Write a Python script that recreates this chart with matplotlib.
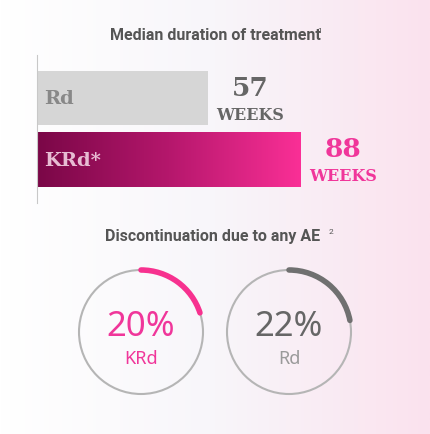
import numpy as np
import matplotlib.pyplot as plt
from matplotlib.patches import Arc, Circle
from matplotlib.colors import LinearSegmentedColormap

# data
arms = ['Rd', 'KRd*']
weeks = [57, 88]
ae_labels = ['KRd', 'Rd']
ae_pct = [20, 22]

W, H = 430, 434
fig = plt.figure(figsize=(W / 100, H / 100), dpi=100)

# background gradient
bg = fig.add_axes([0, 0, 1, 1])
grad = np.linspace(0, 1, 256).reshape(1, -1)
bg.imshow(grad, aspect='auto', extent=[0, W, H, 0], zorder=0,
          cmap=LinearSegmentedColormap.from_list('bg', ['#ffffff', '#f8f6fa', '#fbe2ee']))
bg.set_xlim(0, W)
bg.set_ylim(H, 0)
bg.axis('off')

bg.text(215, 35, 'Median duration of treatment', ha='center', va='center',
        fontsize=11.5, fontweight='bold', color='#555555', family='Roboto')
bg.text(317, 31, '1', fontsize=6, color='#555555', family='Roboto', va='center')
bg.text(213, 236, 'Discontinuation due to any AE', ha='center', va='center',
        fontsize=11.5, fontweight='bold', color='#555555', family='Roboto')
bg.text(329, 232, '2', fontsize=6, color='#555555', family='Roboto', va='center')

# bars
ax = fig.add_axes([37 / W, 1 - 203 / H, (W - 37) / W, 148 / H])
y = [0.46, 1.54]
ax.barh(y[0], weeks[0], height=0.95, color='#d6d6d6')
kimg = np.linspace(0, 1, 256).reshape(1, -1)
ax.imshow(kimg, aspect='auto', extent=[0, weeks[1], y[1] + 0.475, y[1] - 0.475],
          cmap=LinearSegmentedColormap.from_list('k', ['#7a0747', '#b5176c', '#fa2f96']))
ax.set_xlim(0, 131)
ax.set_ylim(2.3, -0.3)
ax.set_xticks([])
ax.set_yticks([])
for s in ['top', 'right', 'bottom']:
    ax.spines[s].set_visible(False)
ax.spines['left'].set_color('#c8c8c8')
ax.patch.set_alpha(0)

lab_col = ['#888888', '#e7bcd3']
num_col = ['#666666', '#f0369a']
for i in range(2):
    ax.text(2.5, y[i] + 0.02, arms[i], ha='left', va='center', fontsize=14,
            fontweight='bold', color=lab_col[i], family='DejaVu Serif')
    ax.text(weeks[i] + 14, y[i] - 0.18, str(weeks[i]), ha='center', va='center',
            fontsize=19, fontweight='bold', color=num_col[i], family='DejaVu Serif')
    ax.text(weeks[i] + 14, y[i] + 0.3, 'WEEKS', ha='center', va='center',
            fontsize=11.5, fontweight='bold', color=num_col[i], family='DejaVu Serif')

# rings
cx = [141, 289]
cy = 332
r = 62
arc_col = ['#f7318f', '#707070']
pct_col = ['#f0369a', '#666666']
sub_col = ['#f0369a', '#9a9a9a']
for i in range(2):
    bg.add_patch(Circle((cx[i], cy), r, fill=False, ec='#b5b5b5', lw=1.5, zorder=3))
    span = ae_pct[i] / 100 * 360
    # y axis is inverted, so angles go clockwise on screen
    bg.add_patch(Arc((cx[i], cy), 2 * r, 2 * r, theta1=270, theta2=270 + span,
                     color=arc_col[i], lw=4, capstyle='round', zorder=4))
    bg.text(cx[i], cy - 5, f'{ae_pct[i]}%', ha='center', va='center', fontsize=25,
            color=pct_col[i], family='Noto Sans')
    bg.text(cx[i], cy + 27, ae_labels[i], ha='center', va='center', fontsize=13,
            color=sub_col[i], family='Noto Sans')

fig.savefig('out.png', dpi=100)
